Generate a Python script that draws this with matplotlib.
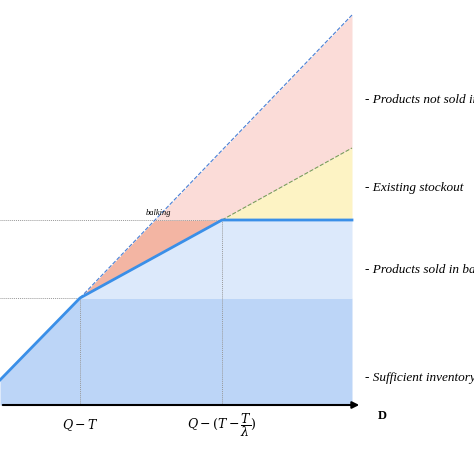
import matplotlib.pyplot as plt
import numpy as np

plt.rcParams['mathtext.fontset'] = 'dejavuserif'

# demand axis breakpoints and levels (in chart units)
d_break = [0, 80, 155, 222, 352]          # D values: start, Q-T, balking top, Q-(T-T/lambda), end
sold_curve = [25, 107, 185, 185]         # sold quantity at 0, Q-T, Q-(T-T/l), end
demand_end = 390                          # y of 45deg demand line at end
stockout_end = 257                        # y of stockout line at end
level_low = 107
level_high = 185
x_ticks = [80, 222]
labels_right = ['- Products not sold in balking', '- Existing stockout',
                '- Products sold in balking', '- Sufficient inventory']
labels_y = [305, 217, 135, 27]

fig = plt.figure(figsize=(4.74, 4.74), dpi=100)
ax = fig.add_axes([0, 0, 1, 1])
ax.set_xlim(0, 474)
ax.set_ylim(-69, 405)
ax.axis('off')

x0, xq, xb, xk, xe = d_break
xs_sold = [x0, xq, xk, xe]
# sufficient inventory
xx = np.array([x0, xq, xe])
ax.fill_between(xx, 0, np.interp(xx, xs_sold, sold_curve).clip(max=level_low), color='#bcd5f7', lw=0)
# products sold in balking
xx = np.array([xq, xk, xe])
ax.fill_between(xx, level_low, np.interp(xx, xs_sold, sold_curve), color='#dce9fb', lw=0)
# balking triangle
xx = np.array([xq, xb, xk])
diag = lambda x: np.interp(x, [xq, xe], [level_low, demand_end])
stock = lambda x: np.interp(x, [xk, xe], [level_high, stockout_end])
ax.fill_between(xx, np.interp(xx, xs_sold, sold_curve), np.minimum(diag(xx), level_high), color='#f3b5a3', lw=0)
# not sold
xx = np.array([xb, xk, xe])
ax.fill_between(xx, np.maximum(stock(xx), level_high), diag(xx), color='#fbdcd8', lw=0)
# existing stockout
xx = np.array([xk, xe])
ax.fill_between(xx, level_high, stock(xx), color='#fdf3c4', lw=0)

# guides
ax.plot([0, xk], [level_high] * 2, ls=(0, (1, 1)), color='#999999', lw=0.7)
ax.plot([0, xq], [level_low] * 2, ls=(0, (1, 1)), color='#999999', lw=0.7)
for xt in x_ticks:
    ax.plot([xt, xt], [0, np.interp(xt, xs_sold, sold_curve)], ls=(0, (1, 1)), color='#999999', lw=0.7)

ax.plot([xq, xe], [level_low, demand_end], ls='--', color='#4a7fd4', lw=0.8)
ax.plot([xk, xe], [level_high, stockout_end], ls='--', color='#7aa05a', lw=0.8)
ax.plot(xs_sold, sold_curve, color='#3a8fe8', lw=2)

ax.annotate('', xy=(362, 0), xytext=(0, 0),
            arrowprops=dict(arrowstyle='-|>', color='black', lw=1.5))
ax.text(378, -5, 'D', fontsize=9, fontweight='bold', family='Liberation Serif', va='top')
ax.text(x_ticks[0], -12, '$Q-T$', fontsize=9, ha='center', va='top')
ax.text(x_ticks[1], -6, r'$Q-(T-\dfrac{T}{\lambda})$', fontsize=9, ha='center', va='top')
ax.text(158, 190, 'balking', fontsize=6, style='italic', family='Liberation Serif', ha='center')
for t, y in zip(labels_right, labels_y):
    ax.text(365, y, t, fontsize=9.5, style='italic', family='Liberation Serif', va='center', clip_on=False)

fig.savefig('out.png', dpi=100)
